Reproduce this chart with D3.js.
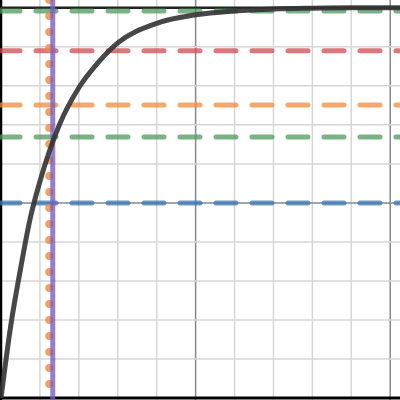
<!DOCTYPE html>
<html><head><meta charset="utf-8">
<script src="https://cdn.jsdelivr.net/npm/d3@7"></script>
<style>body{margin:0;background:#fff}</style>
</head><body>
<script>
var w = 400, h = 400;

// curve
var curveX = [0, 0.25, 0.5, 0.75, 1, 1.5, 2, 2.5, 3, 4, 5, 6, 7, 8, 9, 10.3];
var curveY = [0, 1.85, 3.3, 4.6, 5.55, 7.0, 7.95, 8.6, 9.1, 9.6, 9.82, 9.92, 9.97, 9.99, 10, 10];

// reference lines
var hLevels = [5.0, 6.69, 7.51, 8.9, 9.92];
var hColors = ['#3a75b0', '#4c9a5c', '#f28b35', '#d1494f', '#4c9a5c'];
var vSolid = 1.33;
var vDotted = 1.24;
var ticks = [0, 1, 2, 3, 4, 5, 6, 7, 8, 9, 10];

var x = d3.scaleLinear().domain([0, 10.2]).range([1, 398]);
var y = d3.scaleLinear().domain([0, 10.2]).range([398, 0]);

var svg = d3.select('body').append('svg').attr('width', w).attr('height', h);

// grid
svg.selectAll('.gx').data(ticks).enter().append('line')
  .attr('x1', function(d) { return x(d); }).attr('x2', function(d) { return x(d); })
  .attr('y1', 0).attr('y2', h)
  .attr('stroke', function(d) { return d % 5 === 0 ? '#888' : '#d6d6d6'; })
  .attr('stroke-width', 1.5);
svg.selectAll('.gy').data(ticks).enter().append('line')
  .attr('y1', function(d) { return y(d); }).attr('y2', function(d) { return y(d); })
  .attr('x1', 0).attr('x2', w)
  .attr('stroke', function(d) { return d % 5 === 0 ? '#888' : '#d6d6d6'; })
  .attr('stroke-width', 1.5);

// axes
svg.append('line').attr('x1', x(0)).attr('x2', x(0)).attr('y1', 0).attr('y2', h)
  .attr('stroke', '#000').attr('stroke-width', 2.5);
svg.append('line').attr('x1', 0).attr('x2', w).attr('y1', y(0)).attr('y2', y(0))
  .attr('stroke', '#000').attr('stroke-width', 3);
svg.append('line').attr('x1', 0).attr('x2', w).attr('y1', y(10)).attr('y2', y(10))
  .attr('stroke', '#222').attr('stroke-width', 2.5);

// horizontal dashed levels
svg.selectAll('.hl').data(hLevels).enter().append('line')
  .attr('x1', 0).attr('x2', w)
  .attr('y1', function(d) { return y(d); }).attr('y2', function(d) { return y(d); })
  .attr('stroke', function(d, i) { return hColors[i]; })
  .attr('stroke-opacity', 0.75)
  .attr('stroke-width', 5)
  .attr('stroke-linecap', 'round')
  .attr('stroke-dasharray', '20,16');

// vertical lines
svg.append('line').attr('x1', x(vDotted)).attr('x2', x(vDotted)).attr('y1', 0).attr('y2', h)
  .attr('stroke', '#f28b35').attr('stroke-opacity', 0.8).attr('stroke-width', 8)
  .attr('stroke-linecap', 'round').attr('stroke-dasharray', '0,16');
svg.append('line').attr('x1', x(vSolid)).attr('x2', x(vSolid)).attr('y1', 0).attr('y2', h)
  .attr('stroke', '#7b5cc4').attr('stroke-opacity', 0.8).attr('stroke-width', 5);

// curve
var pts = curveX.map(function(d, i) { return [d, curveY[i]]; });
svg.append('path').datum(pts)
  .attr('d', d3.line().x(function(d) { return x(d[0]); }).y(function(d) { return y(d[1]); })
    .curve(d3.curveMonotoneX))
  .attr('fill', 'none').attr('stroke', '#333').attr('stroke-opacity', 0.9)
  .attr('stroke-width', 5);
</script>
</body></html>
